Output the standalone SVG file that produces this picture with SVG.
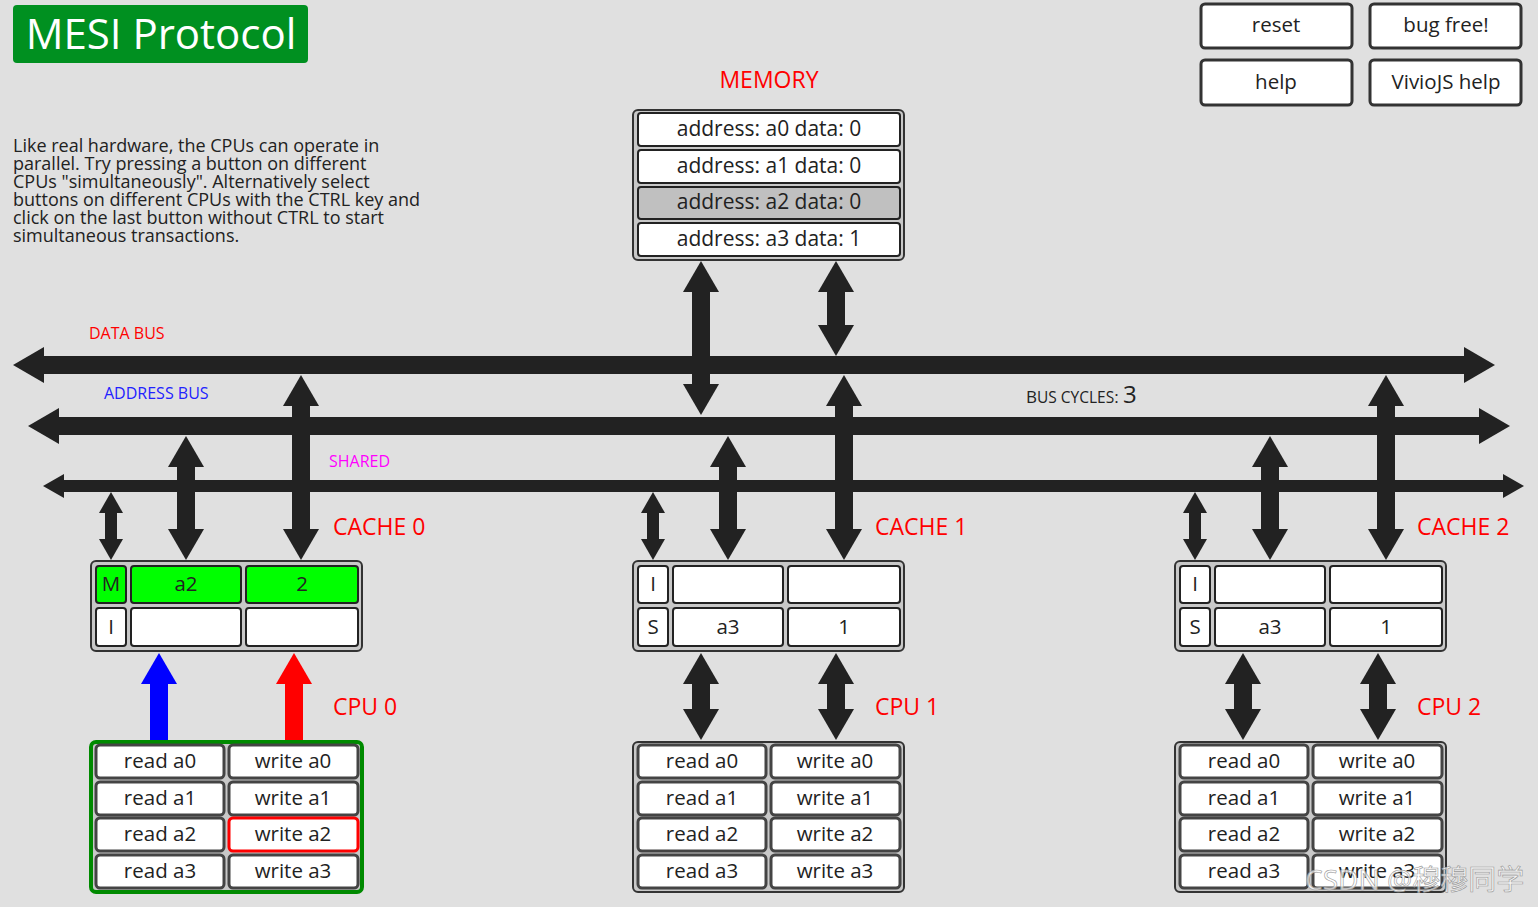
<svg xmlns="http://www.w3.org/2000/svg" width="1538" height="907" viewBox="0 0 1538 907">
<style>
text{font-family:"Open Sans","Noto Sans","Liberation Sans",sans-serif;}
.frame{fill:#c8c8c8;stroke:#333;stroke-width:2}
.cell{fill:#fff;stroke:#222;stroke-width:2}
.green{fill:#0f0}
.gray{fill:#c0c0c0}
.btn{fill:#fff;stroke:#444;stroke-width:3}
.t{font-size:20.5px;fill:#222;text-anchor:middle}
.m{font-size:21px}
.lbl{font-size:23px;fill:#f00}
.bus{stroke:#222;fill:none}
.tb{fill:#fff;stroke:#333;stroke-width:3}
</style>
<defs>
<marker id="ah" markerUnits="userSpaceOnUse" markerWidth="31" markerHeight="36" refX="0" refY="18" orient="auto-start-reverse"><path d="M0,0L31,18L0,36z" fill="#222"/></marker>
<marker id="as" markerUnits="userSpaceOnUse" markerWidth="21" markerHeight="24" refX="0" refY="12" orient="auto-start-reverse"><path d="M0,0L21,12L0,24z" fill="#222"/></marker>
<marker id="ab" markerUnits="userSpaceOnUse" markerWidth="31" markerHeight="36" refX="0" refY="18" orient="auto"><path d="M0,0L31,18L0,36z" fill="#00f"/></marker>
<marker id="ar" markerUnits="userSpaceOnUse" markerWidth="31" markerHeight="36" refX="0" refY="18" orient="auto"><path d="M0,0L31,18L0,36z" fill="#f00"/></marker>
</defs>
<rect width="1538" height="907" fill="#e0e0e0"/>

<g id="title"><rect x="13" y="5" width="295" height="58" rx="4" fill="#009020"/><text x="161" y="49" font-size="42" fill="#fff" text-anchor="middle">MESI Protocol</text></g>
<g id="btn-reset"><rect class="tb" x="1201" y="4" width="151" height="44" rx="4"/><text class="t" x="1276" y="32">reset</text></g>
<g id="btn-bugfree"><rect class="tb" x="1370" y="4" width="151" height="44" rx="4"/><text class="t" x="1446" y="32">bug free!</text></g>
<g id="btn-help"><rect class="tb" x="1201" y="60" width="151" height="45" rx="4"/><text class="t" x="1276" y="89">help</text></g>
<g id="btn-vivio"><rect class="tb" x="1370" y="60" width="151" height="45" rx="4"/><text class="t" x="1446" y="89">VivioJS help</text></g>

<g id="desc" font-size="18" fill="#222">
<text x="13" y="152">Like real hardware, the CPUs can operate in</text>
<text x="13" y="170">parallel. Try pressing a button on different</text>
<text x="13" y="188">CPUs "simultaneously". Alternatively select</text>
<text x="13" y="206">buttons on different CPUs with the CTRL key and</text>
<text x="13" y="224">click on the last button without CTRL to start</text>
<text x="13" y="242">simultaneous transactions.</text>
</g>

<g id="memory">
<text class="lbl" x="769" y="88" text-anchor="middle">MEMORY</text>
<rect class="frame" x="633" y="110" width="271" height="150" rx="5"/>
<rect class="cell" x="638" y="113" width="262" height="33" rx="3"/><text class="t m" x="769" y="136">address: a0 data: 0</text>
<rect class="cell" x="638" y="150" width="262" height="33" rx="3"/><text class="t m" x="769" y="173">address: a1 data: 0</text>
<rect class="cell gray" x="638" y="187" width="262" height="32" rx="3"/><text class="t m" x="769" y="209">address: a2 data: 0</text>
<rect class="cell" x="638" y="223" width="262" height="33" rx="3"/><text class="t m" x="769" y="246">address: a3 data: 1</text>
</g>

<g id="bus-labels" font-size="16">
<text x="89" y="339" fill="#f00">DATA BUS</text>
<text x="104" y="399" fill="#22f">ADDRESS BUS</text>
<text x="329" y="467" fill="#f0f">SHARED</text>
<text x="1026" y="403" fill="#222" font-size="17">B<tspan font-size="15.5">US CYCLES</tspan>: <tspan font-size="24">3</tspan></text>
</g>

<g id="connectors">
<line class="bus" x1="44" y1="365" x2="1464" y2="365" stroke-width="18" marker-start="url(#ah)" marker-end="url(#ah)"/>
<line class="bus" x1="59" y1="426" x2="1479" y2="426" stroke-width="18" marker-start="url(#ah)" marker-end="url(#ah)"/>
<line class="bus" x1="64" y1="486" x2="1503" y2="486" stroke-width="12" marker-start="url(#as)" marker-end="url(#as)"/>
<line class="bus" x1="701" y1="292" x2="701" y2="384" stroke-width="18" marker-start="url(#ah)" marker-end="url(#ah)"/>
<line class="bus" x1="836" y1="292" x2="836" y2="325" stroke-width="18" marker-start="url(#ah)" marker-end="url(#ah)"/>
<g id="c0-bus">
<line class="bus" x1="111" y1="513" x2="111" y2="539" stroke-width="12" marker-start="url(#as)" marker-end="url(#as)"/>
<line class="bus" x1="186" y1="467" x2="186" y2="529" stroke-width="18" marker-start="url(#ah)" marker-end="url(#ah)"/>
<line class="bus" x1="301" y1="406" x2="301" y2="529" stroke-width="18" marker-start="url(#ah)" marker-end="url(#ah)"/>
</g>
<g id="c1-bus">
<line class="bus" x1="653" y1="513" x2="653" y2="539" stroke-width="12" marker-start="url(#as)" marker-end="url(#as)"/>
<line class="bus" x1="728" y1="467" x2="728" y2="529" stroke-width="18" marker-start="url(#ah)" marker-end="url(#ah)"/>
<line class="bus" x1="844" y1="406" x2="844" y2="529" stroke-width="18" marker-start="url(#ah)" marker-end="url(#ah)"/>
</g>
<g id="c2-bus">
<line class="bus" x1="1195" y1="513" x2="1195" y2="539" stroke-width="12" marker-start="url(#as)" marker-end="url(#as)"/>
<line class="bus" x1="1270" y1="467" x2="1270" y2="529" stroke-width="18" marker-start="url(#ah)" marker-end="url(#ah)"/>
<line class="bus" x1="1386" y1="406" x2="1386" y2="529" stroke-width="18" marker-start="url(#ah)" marker-end="url(#ah)"/>
</g>
<line x1="159" y1="741" x2="159" y2="684" stroke="#00f" stroke-width="18" marker-end="url(#ab)"/>
<line x1="294" y1="741" x2="294" y2="684" stroke="#f00" stroke-width="18" marker-end="url(#ar)"/>
<line class="bus" x1="701" y1="684" x2="701" y2="709" stroke-width="18" marker-start="url(#ah)" marker-end="url(#ah)"/>
<line class="bus" x1="836" y1="684" x2="836" y2="709" stroke-width="18" marker-start="url(#ah)" marker-end="url(#ah)"/>
<line class="bus" x1="1243" y1="684" x2="1243" y2="709" stroke-width="18" marker-start="url(#ah)" marker-end="url(#ah)"/>
<line class="bus" x1="1378" y1="684" x2="1378" y2="709" stroke-width="18" marker-start="url(#ah)" marker-end="url(#ah)"/>
</g>

<g id="cache0">
<text class="lbl" x="333" y="535">CACHE 0</text>
<rect class="frame" x="91" y="561" width="271" height="90" rx="5"/>
<rect class="cell green" x="96" y="566" width="30" height="37" rx="3"/><text class="t" x="111" y="591">M</text>
<rect class="cell green" x="131" y="566" width="110" height="37" rx="3"/><text class="t" x="186" y="591">a2</text>
<rect class="cell green" x="246" y="566" width="112" height="37" rx="3"/><text class="t" x="302" y="591">2</text>
<rect class="cell" x="96" y="608" width="30" height="38" rx="3"/><text class="t" x="111" y="634">I</text>
<rect class="cell" x="131" y="608" width="110" height="38" rx="3"/>
<rect class="cell" x="246" y="608" width="112" height="38" rx="3"/>
</g>
<g id="cache1">
<text class="lbl" x="875" y="535">CACHE 1</text>
<rect class="frame" x="633" y="561" width="271" height="90" rx="5"/>
<rect class="cell" x="638" y="566" width="30" height="37" rx="3"/><text class="t" x="653" y="591">I</text>
<rect class="cell" x="673" y="566" width="110" height="37" rx="3"/>
<rect class="cell" x="788" y="566" width="112" height="37" rx="3"/>
<rect class="cell" x="638" y="608" width="30" height="38" rx="3"/><text class="t" x="653" y="634">S</text>
<rect class="cell" x="673" y="608" width="110" height="38" rx="3"/><text class="t" x="728" y="634">a3</text>
<rect class="cell" x="788" y="608" width="112" height="38" rx="3"/><text class="t" x="844" y="634">1</text>
</g>
<g id="cache2">
<text class="lbl" x="1417" y="535">CACHE 2</text>
<rect class="frame" x="1175" y="561" width="271" height="90" rx="5"/>
<rect class="cell" x="1180" y="566" width="30" height="37" rx="3"/><text class="t" x="1195" y="591">I</text>
<rect class="cell" x="1215" y="566" width="110" height="37" rx="3"/>
<rect class="cell" x="1330" y="566" width="112" height="37" rx="3"/>
<rect class="cell" x="1180" y="608" width="30" height="38" rx="3"/><text class="t" x="1195" y="634">S</text>
<rect class="cell" x="1215" y="608" width="110" height="38" rx="3"/><text class="t" x="1270" y="634">a3</text>
<rect class="cell" x="1330" y="608" width="112" height="38" rx="3"/><text class="t" x="1386" y="634">1</text>
</g>

<g id="cpu0">
<text class="lbl" x="333" y="715">CPU 0</text>
<rect x="91" y="742" width="271" height="150" rx="5" fill="#c8c8c8" stroke="#008a00" stroke-width="4"/>
<rect class="btn" x="96" y="745" width="128" height="33" rx="4"/><text class="t" x="160" y="768">read a0</text>
<rect class="btn" x="229" y="745" width="129" height="33" rx="4"/><text class="t" x="293" y="768">write a0</text>
<rect class="btn" x="96" y="782" width="128" height="33" rx="4"/><text class="t" x="160" y="805">read a1</text>
<rect class="btn" x="229" y="782" width="129" height="33" rx="4"/><text class="t" x="293" y="805">write a1</text>
<rect class="btn" x="96" y="818" width="128" height="33" rx="4"/><text class="t" x="160" y="841">read a2</text>
<rect class="btn" x="229" y="818" width="129" height="33" rx="4" style="stroke:#f00"/><text class="t" x="293" y="841">write a2</text>
<rect class="btn" x="96" y="855" width="128" height="33" rx="4"/><text class="t" x="160" y="878">read a3</text>
<rect class="btn" x="229" y="855" width="129" height="33" rx="4"/><text class="t" x="293" y="878">write a3</text>
</g>
<g id="cpu1">
<text class="lbl" x="875" y="715">CPU 1</text>
<rect class="frame" x="633" y="742" width="271" height="150" rx="5"/>
<rect class="btn" x="638" y="745" width="128" height="33" rx="4"/><text class="t" x="702" y="768">read a0</text>
<rect class="btn" x="771" y="745" width="129" height="33" rx="4"/><text class="t" x="835" y="768">write a0</text>
<rect class="btn" x="638" y="782" width="128" height="33" rx="4"/><text class="t" x="702" y="805">read a1</text>
<rect class="btn" x="771" y="782" width="129" height="33" rx="4"/><text class="t" x="835" y="805">write a1</text>
<rect class="btn" x="638" y="818" width="128" height="33" rx="4"/><text class="t" x="702" y="841">read a2</text>
<rect class="btn" x="771" y="818" width="129" height="33" rx="4"/><text class="t" x="835" y="841">write a2</text>
<rect class="btn" x="638" y="855" width="128" height="33" rx="4"/><text class="t" x="702" y="878">read a3</text>
<rect class="btn" x="771" y="855" width="129" height="33" rx="4"/><text class="t" x="835" y="878">write a3</text>
</g>
<g id="cpu2">
<text class="lbl" x="1417" y="715">CPU 2</text>
<rect class="frame" x="1175" y="742" width="271" height="150" rx="5"/>
<rect class="btn" x="1180" y="745" width="128" height="33" rx="4"/><text class="t" x="1244" y="768">read a0</text>
<rect class="btn" x="1313" y="745" width="129" height="33" rx="4"/><text class="t" x="1377" y="768">write a0</text>
<rect class="btn" x="1180" y="782" width="128" height="33" rx="4"/><text class="t" x="1244" y="805">read a1</text>
<rect class="btn" x="1313" y="782" width="129" height="33" rx="4"/><text class="t" x="1377" y="805">write a1</text>
<rect class="btn" x="1180" y="818" width="128" height="33" rx="4"/><text class="t" x="1244" y="841">read a2</text>
<rect class="btn" x="1313" y="818" width="129" height="33" rx="4"/><text class="t" x="1377" y="841">write a2</text>
<rect class="btn" x="1180" y="855" width="128" height="33" rx="4"/><text class="t" x="1244" y="878">read a3</text>
<rect class="btn" x="1313" y="855" width="129" height="33" rx="4"/><text class="t" x="1377" y="878">write a3</text>
</g>
<text x="1305" y="890" font-size="28" fill="#fff" fill-opacity="0.7" stroke="#999" stroke-width="0.6" style="font-family:'Noto Sans','Noto Sans CJK SC',sans-serif">CSDN @穆穆同学</text>
</svg>
